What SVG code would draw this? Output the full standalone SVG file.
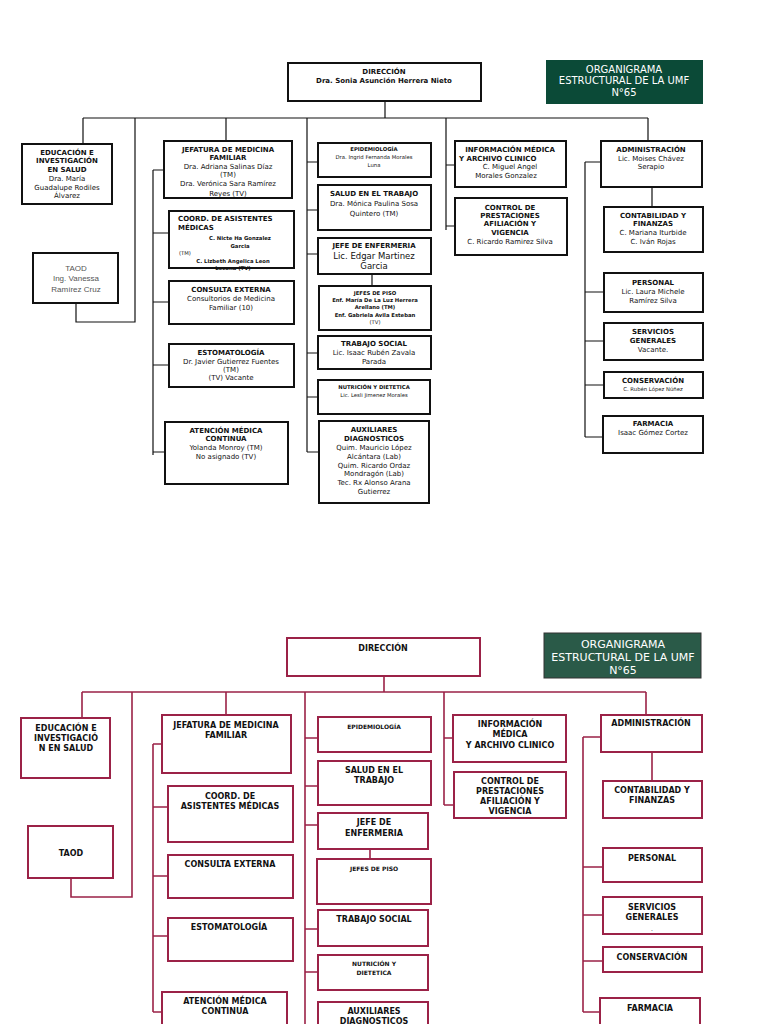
<svg xmlns="http://www.w3.org/2000/svg" width="768" height="1024" viewBox="0 0 768 1024">
<style>
text{font-family:"DejaVu Sans","Noto Sans",sans-serif;text-anchor:middle;fill:#111}
.b{font-weight:bold}
.t7{font-size:7px}.t6{font-size:6px}.t5{font-size:5.3px}.t8{font-size:8px}.t85{font-size:8.5px}
.bx{fill:#fff;stroke:#111;stroke-width:2}
.bxr{fill:#fff;stroke:#9b2247;stroke-width:2}
.c{fill:none;stroke:#111;stroke-width:1.2}
.cr{fill:none;stroke:#9b2247;stroke-width:1.6}
.w{fill:#fff;font-size:10px}
.w2{fill:#fff;font-size:11px}
</style>
<rect width="768" height="1024" fill="#fff"/>
<g id="connectors-top">
<path class="c" d="M385 101V118M83 118H648M83 118V144M226 118V141M135 118V322H76V303M307 118V452M446 118V230M648 118V141"/>
<path class="c" d="M153 170V455M153 170H164M153 233H169M153 302H169M153 365H169M153 452H164"/>
<path class="c" d="M307 162H318M307 210H318M307 254H318M307 353H318M307 397H318M307 452H318M372 274V286"/>
<path class="c" d="M446 165H455M446 226H455M652 187V207M585 162V437M585 162H601M585 292H604M585 341H604M585 385H604M585 437H603"/>
</g>
<g id="title-top"><rect x="546" y="60" width="157" height="44" fill="#0b4a37"/>
<text class="w" x="624" y="73">ORGANIGRAMA</text><text class="w" x="624" y="84">ESTRUCTURAL DE LA UMF</text><text class="w" x="624" y="96">N°65</text></g>
<g id="direccion-top"><rect class="bx" x="288" y="63" width="193" height="38"/>
<text class="b t7" x="384" y="74">DIRECCIÓN</text><text class="b t7" x="384" y="83">Dra. Sonia Asunción Herrera Nieto</text></g>
<g id="educacion-top"><rect class="bx" x="22" y="144" width="90" height="60" stroke-width="2.5"/>
<text class="b t7" x="67" y="155">EDUCACIÓN E</text><text class="b t7" x="67" y="163">INVESTIGACIÓN</text><text class="b t7" x="67" y="172">EN SALUD</text>
<text class="t7" x="67" y="181">Dra. María</text><text class="t7" x="67" y="190">Guadalupe Rodiles</text><text class="t7" x="67" y="198">Álvarez</text></g>
<g id="taod-top"><rect class="bx" x="33" y="253" width="85" height="50" stroke-width="1.5"/>
<text x="76" y="271" style="font-family:'Liberation Sans',sans-serif;font-size:8px;fill:#555">TAOD</text>
<text x="76" y="281" style="font-family:'Liberation Sans',sans-serif;font-size:8px;fill:#555">Ing. Vanessa</text>
<text x="76" y="292" style="font-family:'Liberation Sans',sans-serif;font-size:8px;fill:#555">Ramírez Cruz</text></g>
<g id="jefatura-top"><rect class="bx" x="164" y="141" width="128" height="57"/>
<text class="b t7" x="228" y="152">JEFATURA DE MEDICINA</text><text class="b t7" x="228" y="160">FAMILIAR</text>
<text class="t7" x="228" y="169">Dra. Adriana Salinas Díaz</text><text class="t7" x="228" y="177">(TM)</text>
<text class="t7" x="228" y="186">Dra.  Verónica Sara  Ramírez</text><text class="t7" x="228" y="196">Reyes (TV)</text></g>
<g id="coord-top"><rect class="bx" x="169" y="211" width="125" height="57" stroke-width="2.5"/>
<text class="b t7" x="178" y="221" style="text-anchor:start">COORD. DE ASISTENTES</text><text class="b t7" x="178" y="230" style="text-anchor:start">MÉDICAS</text>
<text class="b t5" x="240" y="240">C. Nicte Ha Gonzalez</text><text class="b t5" x="240" y="248">Garcia</text>
<text class="t5" x="179" y="255" style="text-anchor:start">(TM)</text>
<text class="b t5" x="233" y="263">C. Lizbeth Angelica Leon</text><text class="b t5" x="233" y="270">Lecona   (TV)</text></g>
<g id="consulta-top"><rect class="bx" x="169" y="281" width="125" height="43"/>
<text class="b t7" x="231" y="292">CONSULTA EXTERNA</text><text class="t7" x="231" y="301">Consultorios de Medicina</text><text class="t7" x="231" y="310">Familiar (10)</text></g>
<g id="estomatologia-top"><rect class="bx" x="169" y="344" width="125" height="43" stroke-width="1.6"/>
<text class="b t7" x="231" y="355">ESTOMATOLOGÍA</text><text class="t7" x="231" y="364">Dr. Javier Gutierrez Fuentes</text><text class="t7" x="231" y="372">(TM)</text><text class="t7" x="231" y="380">(TV) Vacante</text></g>
<g id="atencion-top"><rect class="bx" x="165" y="422" width="123" height="62"/>
<text class="b t7" x="226" y="433">ATENCIÓN MÉDICA</text><text class="b t7" x="226" y="441">CONTINUA</text><text class="t7" x="226" y="450">Yolanda Monroy (TM)</text><text class="t7" x="226" y="459">No asignado (TV)</text></g>
<g id="epidemiologia-top"><rect class="bx" x="318" y="143" width="113" height="34" stroke-width="1.6"/>
<text class="b t5" x="374" y="151">EPIDEMIOLOGÍA</text><text class="t5" x="374" y="159">Dra. Ingrid Fernanda Morales</text><text class="t5" x="374" y="167">Luna</text></g>
<g id="salud-top"><rect class="bx" x="318" y="185" width="113" height="45" stroke-width="2.2"/>
<text class="b t7" x="374" y="196">SALUD EN EL TRABAJO</text><text class="t7" x="374" y="206">Dra. Mónica Paulina Sosa</text><text class="t7" x="374" y="216">Quintero (TM)</text></g>
<g id="jefe-enfermeria-top"><rect class="bx" x="318" y="238" width="113" height="36" stroke-width="1.6"/>
<text class="b t7" x="374" y="248">JEFE DE ENFERMERIA</text><text class="t85" x="374" y="259">Lic. Edgar Martinez</text><text class="t85" x="374" y="269">Garcia</text></g>
<g id="jefes-piso-top"><rect class="bx" x="319" y="286" width="112" height="44" stroke-width="2.5"/>
<text class="b t5" x="375" y="295">JEFES DE PISO</text><text class="b t5" x="375" y="302">Enf. María De La Luz Herrera</text><text class="b t5" x="375" y="309">Arellano (TM)</text><text class="b t5" x="375" y="317">Enf. Gabriela Avila Esteban</text><text class="t5" x="375" y="324">(TV)</text></g>
<g id="trabajo-social-top"><rect class="bx" x="318" y="336" width="113" height="33" stroke-width="2.5"/>
<text class="b t7" x="374" y="346">TRABAJO SOCIAL</text><text class="t7" x="374" y="355">Lic. Isaac  Rubén Zavala</text><text class="t7" x="374" y="364">Parada</text></g>
<g id="nutricion-top"><rect class="bx" x="318" y="380" width="112" height="34" stroke-width="1.6"/>
<text class="b t5" x="374" y="389">NUTRICIÓN Y DIETETICA</text><text class="t5" x="374" y="397">Lic. Lesli Jimenez Morales</text></g>
<g id="auxiliares-top"><rect class="bx" x="319" y="421" width="110" height="82" stroke-width="2.5"/>
<text class="b t7" x="374" y="432">AUXILIARES</text><text class="b t7" x="374" y="441">DIAGNOSTICOS</text>
<text class="t7" x="374" y="450">Quim. Mauricio López</text><text class="t7" x="374" y="459">Alcántara  (Lab)</text><text class="t7" x="374" y="468">Quim. Ricardo Ordaz</text><text class="t7" x="374" y="476">Mondragón  (Lab)</text><text class="t7" x="374" y="485">Tec. Rx Alonso Arana</text><text class="t7" x="374" y="494">Gutierrez</text></g>
<g id="informacion-top"><rect class="bx" x="455" y="141" width="111" height="46"/>
<text class="b t7" x="510" y="152">INFORMACIÓN MÉDICA</text><text class="b t7" x="459" y="161" style="text-anchor:start">Y ARCHIVO CLINICO</text><text class="t7" x="510" y="169">C. Miguel Angel</text><text class="t7" x="506" y="178">Morales Gonzalez</text></g>
<g id="control-top"><rect class="bx" x="455" y="198" width="112" height="57"/>
<text class="b t7" x="510" y="210">CONTROL DE</text><text class="b t7" x="510" y="218">PRESTACIONES</text><text class="b t7" x="510" y="226">AFILIACIÓN Y</text><text class="b t7" x="510" y="235">VIGENCIA</text><text class="t7" x="510" y="244">C. Ricardo Ramirez Silva</text></g>
<g id="administracion-top"><rect class="bx" x="601" y="141" width="101" height="46"/>
<text class="b t7" x="651" y="152">ADMINISTRACIÓN</text><text class="t7" x="651" y="161">Lic. Moises Chávez</text><text class="t7" x="651" y="169">Serapio</text></g>
<g id="contabilidad-top"><rect class="bx" x="604" y="207" width="99" height="45"/>
<text class="b t7" x="653" y="218">CONTABILIDAD Y</text><text class="b t7" x="653" y="226">FINANZAS</text><text class="t7" x="653" y="235">C. Mariana Iturbide</text><text class="t7" x="653" y="244">C. Iván Rojas</text></g>
<g id="personal-top"><rect class="bx" x="604" y="273" width="99" height="39"/>
<text class="b t7" x="653" y="285">PERSONAL</text><text class="t7" x="653" y="294">Lic. Laura Michele</text><text class="t7" x="653" y="303">Ramírez Silva</text></g>
<g id="servicios-top"><rect class="bx" x="604" y="323" width="99" height="37"/>
<text class="b t7" x="653" y="334">SERVICIOS</text><text class="b t7" x="653" y="343">GENERALES</text><text class="t7" x="653" y="352">Vacante.</text></g>
<g id="conservacion-top"><rect class="bx" x="604" y="372" width="99" height="26" stroke-width="1.6"/>
<text class="b t7" x="653" y="383">CONSERVACIÓN</text><text class="t5" x="653" y="391">C. Rubén López Núñez</text></g>
<g id="farmacia-top"><rect class="bx" x="603" y="416" width="100" height="37" stroke-width="1.6"/>
<text class="b t7" x="653" y="426">FARMACIA</text><text class="t7" x="653" y="435">Isaac Gómez Cortez</text></g>

<g id="connectors-bottom">
<path class="cr" d="M384 676V692M82 692H646M82 692V718M226 692V715M132 692V897H71V878M305 692V1024M444 692V805M646 692V715"/>
<path class="cr" d="M153 744V1012M153 744H162M153 807H168M153 876H168M153 936H168M153 1012H162"/>
<path class="cr" d="M305 738H318M305 786H318M305 825H318M305 929H318M305 972H318M370 849V859"/>
<path class="cr" d="M444 738H453M444 805H454M652 752V781M583 737V1012M583 737H601M583 867H603M583 915H603M583 961H603M583 1012H600"/>
</g>
<g id="title-bottom"><rect x="544" y="633" width="157" height="45" fill="#2a5a48" stroke="#333" stroke-width="1"/>
<text class="w2" x="623" y="648">ORGANIGRAMA</text><text class="w2" x="623" y="661">ESTRUCTURAL DE LA UMF</text><text class="w2" x="623" y="674">N°65</text></g>
<g id="direccion-bottom"><rect class="bxr" x="287" y="638" width="193" height="38"/><text class="b t8" x="383" y="651">DIRECCIÓN</text></g>
<g id="educacion-bottom"><rect class="bxr" x="21" y="718" width="89" height="60"/>
<text class="b t8" x="66" y="731">EDUCACIÓN E</text><text class="b t8" x="66" y="741">INVESTIGACIÓ</text><text class="b t8" x="66" y="751">N EN SALUD</text></g>
<g id="taod-bottom"><rect class="bxr" x="28" y="826" width="85" height="52"/><text class="b t8" x="71" y="856">TAOD</text></g>
<g id="jefatura-bottom"><rect class="bxr" x="162" y="715" width="129" height="58" stroke-width="2.6"/>
<text class="b t8" x="226" y="728">JEFATURA DE MEDICINA</text><text class="b t8" x="226" y="738">FAMILIAR</text></g>
<g id="coord-bottom"><rect class="bxr" x="168" y="786" width="125" height="56"/>
<text class="b t8" x="230" y="799">COORD. DE</text><text class="b t8" x="230" y="809">ASISTENTES MÉDICAS</text></g>
<g id="consulta-bottom"><rect class="bxr" x="168" y="855" width="125" height="43" stroke-width="2.4"/><text class="b t8" x="230" y="867">CONSULTA EXTERNA</text></g>
<g id="estomatologia-bottom"><rect class="bxr" x="168" y="918" width="125" height="43" stroke-width="2.4"/><text class="b t8" x="229" y="930">ESTOMATOLOGÍA</text></g>
<g id="atencion-bottom"><rect class="bxr" x="162" y="992" width="125" height="40"/>
<text class="b t8" x="225" y="1004">ATENCIÓN MÉDICA</text><text class="b t8" x="225" y="1014">CONTINUA</text></g>
<g id="epidemiologia-bottom"><rect class="bxr" x="318" y="717" width="113" height="35"/><text class="b t6" x="374" y="729">EPIDEMIOLOGÍA</text></g>
<g id="salud-bottom"><rect class="bxr" x="318" y="761" width="113" height="44"/>
<text class="b t8" x="374" y="773">SALUD EN EL</text><text class="b t8" x="374" y="783">TRABAJO</text></g>
<g id="jefe-enfermeria-bottom"><rect class="bxr" x="318" y="813" width="110" height="36"/>
<text class="b t8" x="374" y="825">JEFE DE</text><text class="b t8" x="374" y="836">ENFERMERIA</text></g>
<g id="jefes-piso-bottom"><rect class="bxr" x="317" y="859" width="114" height="45"/><text class="b t6" x="374" y="871">JEFES DE PISO</text></g>
<g id="trabajo-social-bottom"><rect class="bxr" x="318" y="910" width="110" height="36"/><text class="b t8" x="374" y="922">TRABAJO SOCIAL</text></g>
<g id="nutricion-bottom"><rect class="bxr" x="318" y="955" width="110" height="35"/>
<text class="b t6" x="374" y="966">NUTRICIÓN Y</text><text class="b t6" x="374" y="975">DIETETICA</text></g>
<g id="auxiliares-bottom"><rect class="bxr" x="318" y="1002" width="110" height="40" stroke-width="2.4"/>
<text class="b t8" x="374" y="1014">AUXILIARES</text><text class="b t8" x="374" y="1024">DIAGNOSTICOS</text></g>
<g id="informacion-bottom"><rect class="bxr" x="453" y="715" width="113" height="47" stroke-width="2.4"/>
<text class="b t8" x="510" y="727">INFORMACIÓN</text><text class="b t8" x="510" y="737">MÉDICA</text><text class="b t8" x="510" y="748">Y ARCHIVO CLINICO</text></g>
<g id="control-bottom"><rect class="bxr" x="454" y="772" width="112" height="46" stroke-width="2.4"/>
<text class="b t8" x="510" y="784">CONTROL DE</text><text class="b t8" x="510" y="794">PRESTACIONES</text><text class="b t8" x="510" y="804">AFILIACIÓN Y</text><text class="b t8" x="510" y="814">VIGENCIA</text></g>
<g id="administracion-bottom"><rect class="bxr" x="601" y="715" width="101" height="37"/><text class="b t8" x="651" y="726">ADMINISTRACIÓN</text></g>
<g id="contabilidad-bottom"><rect class="bxr" x="603" y="781" width="99" height="37" stroke-width="2.4"/>
<text class="b t8" x="652" y="793">CONTABILIDAD Y</text><text class="b t8" x="652" y="803">FINANZAS</text></g>
<g id="personal-bottom"><rect class="bxr" x="603" y="848" width="99" height="34" stroke-width="2.4"/><text class="b t8" x="652" y="861">PERSONAL</text></g>
<g id="servicios-bottom"><rect class="bxr" x="603" y="897" width="99" height="37" stroke-width="2.4"/>
<text class="b t8" x="652" y="910">SERVICIOS</text><text class="b t8" x="652" y="920">GENERALES</text><text class="t6" x="652" y="931">.</text></g>
<g id="conservacion-bottom"><rect class="bxr" x="603" y="947" width="99" height="25" stroke-width="2.4"/><text class="b t8" x="652" y="960">CONSERVACIÓN</text></g>
<g id="farmacia-bottom"><rect class="bxr" x="600" y="998" width="100" height="30" stroke-width="2.4"/><text class="b t8" x="650" y="1011">FARMACIA</text></g>
</svg>
